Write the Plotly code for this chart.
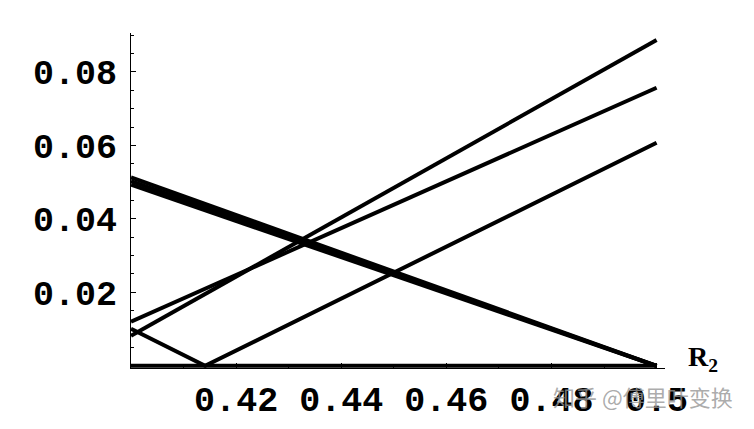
import plotly.graph_objects as go

# Data
x_ends = [0.4, 0.5]
falling_1 = [0.0513, 0.0]
falling_2 = [0.0503, 0.0]
falling_3 = [0.0493, 0.0]
rising_1 = [0.0120, 0.0757]
rising_2 = [0.0082, 0.0887]
v_x = [0.4, 0.4141, 0.5]
v_y = [0.0101, 0.0, 0.0607]
zero_y = [0.0, 0.0]

x_tickvals = [0.42, 0.44, 0.46, 0.48, 0.5]
x_ticktext = ["0.42", "0.44", "0.46", "0.48", "0.5"]
y_tickvals = [0.02, 0.04, 0.06, 0.08]
y_ticktext = ["0.02", "0.04", "0.06", "0.08"]

LW = 4
fig = go.Figure()
series = [(x_ends, falling_1), (x_ends, falling_2), (x_ends, falling_3),
          (x_ends, rising_1), (x_ends, rising_2), (v_x, v_y), (x_ends, zero_y)]
for xs, ys in series:
    fig.add_trace(go.Scatter(x=xs, y=ys, mode="lines",
                             line=dict(color="black", width=LW),
                             showlegend=False, hoverinfo="skip"))

tickfont = dict(family="Liberation Mono", size=35, color="black", weight="bold")
fig.update_layout(
    width=754, height=429,
    margin=dict(l=131, r=89, t=33, b=61),
    paper_bgcolor="white", plot_bgcolor="white",
    font=dict(family="Liberation Mono"),
    xaxis=dict(range=[0.4, 0.5016], showgrid=False, zeroline=False, automargin=False,
               showline=True, linecolor="black", linewidth=1,
               tickvals=x_tickvals, ticktext=x_ticktext,
               ticks="inside", ticklen=5, tickcolor="black",
               minor=dict(dtick=0.01, tick0=0.4, ticks="inside", ticklen=3, tickcolor="black"),
               tickfont=tickfont, ticklabelstandoff=0),
    yaxis=dict(range=[-0.0006, 0.0906], showgrid=False, zeroline=False, automargin=False,
               showline=True, linecolor="black", linewidth=1,
               tickvals=y_tickvals, ticktext=y_ticktext,
               ticks="inside", ticklen=5, tickcolor="black",
               minor=dict(dtick=0.005, tick0=0, ticks="inside", ticklen=3, tickcolor="black"),
               tickfont=tickfont, ticklabelstandoff=6),
)

fig.add_annotation(x=1.0, y=0.0, xref="paper", yref="y",
                   text="<b>R<sub>2</sub></b>", showarrow=False,
                   xanchor="left", yanchor="bottom", xshift=21, yshift=-12,
                   font=dict(family="Liberation Serif", size=28, color="black"))

fig.add_annotation(x=1.0, y=0.0, xref="paper", yref="paper",
                   text="知乎 @傅里叶变换", showarrow=False,
                   xanchor="right", yanchor="middle", xshift=70, yshift=-28,
                   font=dict(family="Noto Sans CJK SC", size=22, color="rgba(150,150,150,0.8)"))

fig.write_html("out.html", config={"displayModeBar": False},
               post_script="document.body.style.margin='0';")
